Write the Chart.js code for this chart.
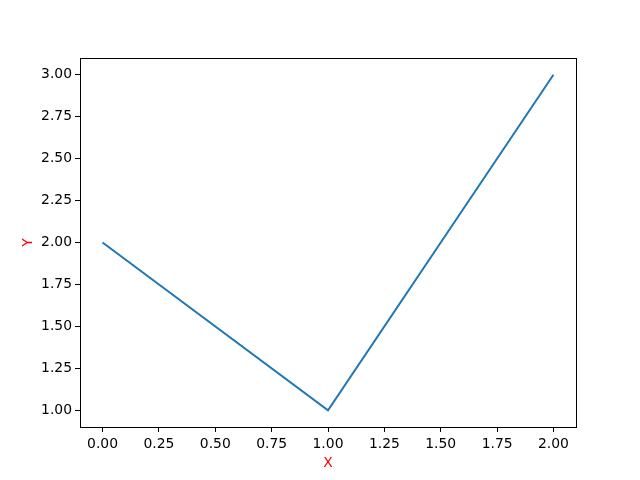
<!DOCTYPE html>
<html><head><meta charset="utf-8">
<script src="https://cdn.jsdelivr.net/npm/chart.js@4/dist/chart.umd.min.js"></script>
<style>html,body{margin:0;padding:0;background:#fff}#wrap{width:640px;height:480px}</style>
</head><body><div id="wrap"><canvas id="c" width="640" height="480"></canvas></div>
<script>
const xValues = [0, 1, 2];
const yValues = [2, 1, 3];
const xTicks = [0, 0.25, 0.5, 0.75, 1, 1.25, 1.5, 1.75, 2];
const yTicks = [1, 1.25, 1.5, 1.75, 2, 2.25, 2.5, 2.75, 3];
const xLabel = 'X';
const yLabel = 'Y';

const FONT = {family: 'DejaVu Sans', size: 13.9};
const frame = {
  id: 'frame',
  afterDraw(chart) {
    const a = chart.chartArea, ctx = chart.ctx;
    ctx.save();
    ctx.strokeStyle = '#000';
    ctx.lineWidth = 1;
    ctx.strokeRect(Math.round(a.left) + 0.5, Math.round(a.top) + 0.5, Math.round(a.right - a.left), Math.round(a.bottom - a.top));
    ctx.restore();
  }
};
new Chart(document.getElementById('c'), {
  type: 'line',
  data: {
    datasets: [{
      data: xValues.map((x, i) => ({x, y: yValues[i]})),
      borderColor: '#1f77b4',
      borderWidth: 2,
      pointRadius: 0,
      tension: 0,
      fill: false
    }]
  },
  options: {
    responsive: false,
    animation: false,
    devicePixelRatio: 1,
    layout: {padding: {left: 0, top: 58, right: 64, bottom: 0}},
    plugins: {legend: {display: false}, tooltip: {enabled: false}},
    scales: {
      x: {
        type: 'linear', min: -0.1, max: 2.1,
        afterBuildTicks: s => { s.ticks = xTicks.map(v => ({value: v})); },
        afterFit: s => { s.height = 53; },
        grid: {drawOnChartArea: false, drawTicks: true, tickLength: 5, color: '#000'},
        border: {display: false},
        ticks: {color: '#000', font: FONT, padding: 4, maxRotation: 0, autoSkip: false,
          callback: v => Number(v).toFixed(2)},
        title: {display: true, text: xLabel, color: 'red', font: FONT, padding: {top: 2, bottom: 8}}
      },
      y: {
        type: 'linear', min: 0.9, max: 3.1,
        afterBuildTicks: s => { s.ticks = yTicks.map(v => ({value: v})); },
        afterFit: s => { s.width = 80; },
        grid: {drawOnChartArea: false, drawTicks: true, tickLength: 5, color: '#000'},
        border: {display: false},
        ticks: {color: '#000', font: FONT, padding: 3, autoSkip: false,
          callback: v => Number(v).toFixed(2)},
        title: {display: true, text: yLabel, color: 'red', font: FONT, padding: {top: 20, bottom: 0}}
      }
    }
  },
  plugins: [frame]
});
</script></body></html>
